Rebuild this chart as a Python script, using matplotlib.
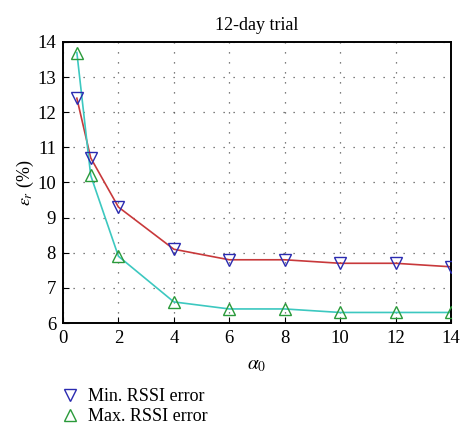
import matplotlib
matplotlib.use("Agg")
import matplotlib.pyplot as plt
from matplotlib.lines import Line2D

alpha0 = [0.5, 1, 2, 4, 6, 8, 10, 12, 14]
min_err = [12.4, 10.7, 9.3, 8.1, 7.8, 7.8, 7.7, 7.7, 7.6]
max_err = [13.7, 10.2, 7.9, 6.6, 6.4, 6.4, 6.3, 6.3, 6.3]
xticks = [0, 2, 4, 6, 8, 10, 12, 14]
yticks = [6, 7, 8, 9, 10, 11, 12, 13, 14]

plt.rcParams['font.family'] = ['Liberation Serif', 'DejaVu Serif']
plt.rcParams['mathtext.fontset'] = 'stix'

fig = plt.figure(figsize=(4.74, 4.40), dpi=100)
ax = fig.add_axes([63/474, 1-323/440, (451-63)/474, (323-42)/440])

ax.plot(alpha0, min_err, color='#c8393b', lw=1.2, zorder=2)
ax.plot(alpha0, max_err, color='#3cc8c0', lw=1.2, zorder=2)
ax.plot(alpha0, min_err, ls='none', marker='v', ms=9, mfc='none', mec='#2a2ab0', mew=1.0, zorder=3)
ax.plot(alpha0, max_err, ls='none', marker='^', ms=9, mfc='none', mec='#2a9a3a', mew=1.0, zorder=3)

ax.set_xlim(0, 14)
ax.set_ylim(6, 14)
ax.set_xticks(xticks)
ax.set_yticks(yticks)
ax.tick_params(direction='in', labelsize=13.5, length=4, width=0.8, pad=5)
ax.grid(True, ls=(0, (1, 7)), color='#555555', lw=0.9)
for s in ax.spines.values():
    s.set_linewidth(1.4)
ax.set_title('12-day trial', fontsize=13, pad=9)
ax.set_xlabel(r'$\alpha_0$', fontsize=14, labelpad=7)
ax.set_ylabel(r'$\varepsilon_r$ (%)', fontsize=13, labelpad=1)

handles = [
    Line2D([], [], ls='none', marker='v', ms=9, mfc='none', mec='#2a2ab0', mew=1.0),
    Line2D([], [], ls='none', marker='^', ms=9, mfc='none', mec='#2a9a3a', mew=1.0),
]
fig.legend(handles, ['Min. RSSI error', 'Max. RSSI error'], loc='upper left',
           bbox_to_anchor=(52/474, 1-381/440), frameon=False, fontsize=13,
           handletextpad=0.4, labelspacing=0.15, handlelength=1.2, borderaxespad=0)

fig.savefig('out.png', dpi=100)
